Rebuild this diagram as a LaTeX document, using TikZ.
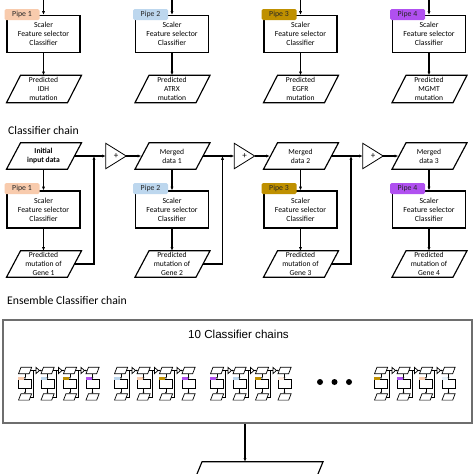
\documentclass[tikz,border=0pt]{standalone}
\usepackage{fontspec}
\setmainfont{Carlito}
\newfontfamily\arialf{Liberation Sans}
\usetikzlibrary{arrows.meta}
\definecolor{cpeach}{RGB}{248,203,173}
\definecolor{cblue}{RGB}{189,215,238}
\definecolor{cgold}{RGB}{191,144,0}
\definecolor{cpurple}{RGB}{176,80,240}
\definecolor{cgray}{RGB}{110,110,110}
\tikzset{
 ln/.style={line width=1.15pt, black},
 arr/.style={ln, -{Latex[length=3.8pt,width=3.2pt]}},
 miniarr/.style={-{Latex[length=1.8pt,width=1.8pt]}},
 stagebox/.style={draw, line width=1.15pt, minimum width=73pt, minimum height=37pt, inner sep=0pt, align=center, font=\fontsize{7.8}{9}\selectfont},
 paranode/.style={minimum width=61pt, minimum height=26pt, inner sep=0pt, align=center, font=\fontsize{7.6}{8.8}\selectfont},
 pipelabel/.style={fill=#1, rounded corners=1.5pt, minimum width=35pt, minimum height=11pt, inner sep=0pt, text=black!85, font=\fontsize{7.8}{8}\selectfont},
 trinode/.style={minimum width=20pt, minimum height=25pt, inner sep=0pt, font=\fontsize{9}{9}\selectfont},
 titletext/.style={anchor=west, inner sep=0pt, font=\fontsize{11.7}{13}\selectfont},
}
\newcommand\drawpara[1]{\draw[ln] ([xshift=-23pt]#1.north) -- ([xshift=38pt]#1.north) -- ([xshift=24pt]#1.south) -- ([xshift=-37pt]#1.south) -- cycle;}
\newcommand\minichain[5]{%
\begin{scope}[shift={(#1-7.6125,332.28)}, xscale=0.175, yscale=0.245, line width=0.7pt]
 \foreach \cx/\cl in {43.5/#2,172/#3,300.5/#4,429/#5}{
  \draw (\cx-23,143) -- (\cx+38,143) -- (\cx+24,169) -- (\cx-37,169) -- cycle;
  \draw (\cx-36.5,191) rectangle (\cx+36.5,228);
  \fill[\cl] (\cx-39,183) rectangle (\cx-4,194);
  \draw (\cx-23,251) -- (\cx+38,251) -- (\cx+24,277) -- (\cx-37,277) -- cycle;
  \draw[miniarr] (\cx,169) -- (\cx,191);
  \draw[miniarr] (\cx,228) -- (\cx,251);
 }
 \foreach \cx in {43.5,172,300.5}{
  \draw (\cx+30.5,156) -- (\cx+62.5,156);
  \draw (\cx+62.5,143) -- (\cx+82.5,156) -- (\cx+62.5,169) -- cycle;
  \draw[miniarr] (\cx+82.5,156) -- (\cx+98,156);
  \draw (\cx+30.5,264) -| (\cx+50.5,156);
 }
\end{scope}}
\begin{document}
\begin{tikzpicture}[x=1pt,y=-1pt]
\useasboundingbox (0,0) rectangle (474,474);
\clip (0,0) rectangle (474,474);
\fill[white] (0,0) rectangle (474,474);
% ---------- top section ----------
\foreach \i/\x/\col/\g in {1/43.5/cpeach/IDH,2/172/cblue/ATRX,3/300.5/cgold/EGFR,4/429/cpurple/MGMT}{
 \node[stagebox] (tb\i) at (\x,34) {Scaler\\Feature selector\\Classifier};
 \node[pipelabel=\col] (tl\i) at (\x-21.5,14.5) {Pipe \i};
 \node[paranode, minimum height=27pt] (tp\i) at (\x,89) {Predicted\\\g\\mutation};
 \drawpara{tp\i}
 \coordinate (ti\i) at (\x,0);
 \draw[arr] (ti\i) -- (tb\i.north);
 \draw[arr] (tb\i.south) -- (tp\i.north);
}
% ---------- classifier chain ----------
\node[titletext] (ttl1) at (8,130) {Classifier chain};
\node[paranode, font=\fontsize{7.6}{8.8}\selectfont\bfseries] (top1) at (43.5,156) {Initial\\input data};
\foreach \i/\x in {1/172,2/300.5,3/429}{
 \pgfmathtruncatemacro\k{\i+1}
 \node[paranode] (top\k) at (\x,156) {Merged\\data \i};
}
\foreach \i/\x/\col in {1/43.5/cpeach,2/172/cblue,3/300.5/cgold,4/429/cpurple}{
 \node[stagebox] (cb\i) at (\x,209.5) {Scaler\\Feature selector\\Classifier};
 \node[pipelabel=\col] (cl\i) at (\x-21.5,188.5) {Pipe \i};
 \node[paranode] (pr\i) at (\x,264) {Predicted\\mutation of\\Gene \i};
 \drawpara{pr\i}
 \drawpara{top\i}
 \draw[arr] (top\i.south) -- (cb\i.north);
 \draw[arr] (cb\i.south) -- (pr\i.north);
}
\foreach \i/\x/\j in {1/116/2,2/244.5/3,3/373/4}{
 \node[trinode] (tr\i) at (\x,156) {+};
 \draw[ln, line width=0.8pt] (tr\i.north west) -- (tr\i.east) -- (tr\i.south west) -- cycle;
 \coordinate (jn\i) at (\x-22,156);
 \draw[arr] (top\i.east) -- (tr\i.west);
 \draw[arr] (tr\i.east) -- (top\j.west);
 \draw[arr] (pr\i.east) -| (jn\i);
}
% ---------- ensemble ----------
\node[titletext] (ttl2) at (7,300) {Ensemble Classifier chain};
\node[draw=cgray, line width=1.5pt, minimum width=469pt, minimum height=103pt, inner sep=0pt] (ens) at (237.5,371.5) {};
\node[font=\arialf\fontsize{11.6}{13}\selectfont, inner sep=0pt] (ensl) at (238.5,334) {10 Classifier chains};
\minichain{25}{cpeach}{cblue}{cgold}{cpurple}
\minichain{121}{cblue}{cpeach}{cgold}{cpurple}
\minichain{217}{cpurple}{cblue}{cgold}{cpeach!40}
\minichain{381}{cgold}{cpurple}{cpeach}{cblue!40}
\foreach \dx in {320,334.5,349}{\fill (\dx,382) circle (3);}
\node[minimum width=121pt, minimum height=36pt, inner sep=0pt] (bp) at (255,480) {};
\draw[ln] ([xshift=-53pt]bp.north) -- ([xshift=68pt]bp.north) -- ([xshift=53pt]bp.south) -- ([xshift=-68pt]bp.south) -- cycle;
\draw[arr] ([xshift=7.5pt]ens.south) -- ([xshift=7.5pt]ens.south |- bp.north);
\end{tikzpicture}
\end{document}
